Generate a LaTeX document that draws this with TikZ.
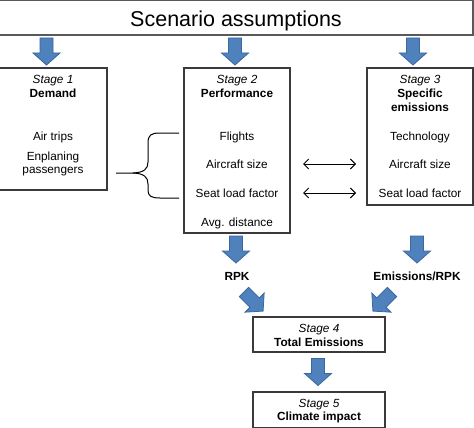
\documentclass[tikz,border=0pt]{standalone}
\usepackage{fontspec}
\setmainfont{Liberation Sans}
\usetikzlibrary{arrows.meta}
\definecolor{arrfill}{HTML}{4F81BD}
\definecolor{arrdraw}{HTML}{3A68A0}
\definecolor{boxline}{HTML}{3A3A3A}
\begin{document}
\begin{tikzpicture}[x=1pt,y=-1pt,
  box/.style={draw=boxline,line width=1.1pt,fill=white,inner sep=0pt},
  txt/.style={inner sep=0pt,text height=8.5pt,text depth=0pt,font=\fontsize{11.8}{14}\selectfont},
  ital/.style={txt,font=\fontsize{11.8}{14}\selectfont\itshape},
  bld/.style={txt,font=\fontsize{11.8}{14}\selectfont\bfseries},
  arrowstyle/.style={fill=arrfill,draw=arrdraw,line width=0.8pt,line join=miter},
  barrow/.pic={\draw[arrowstyle] (-6.5,0) -- (6.5,0) -- (6.5,15) -- (13.5,15) -- (0,27) -- (-13.5,15) -- (-6.5,15) -- cycle;},
  link/.style={line width=0.9pt,draw=black,{Straight Barb[length=5pt,width=10pt]}-{Straight Barb[length=5pt,width=10pt]}},
  bracestyle/.style={line width=1pt,draw=black}]
\clip (0,0) rectangle (474,428);
\fill[white] (0,0) rectangle (474,428);

% top box
\node[box,line width=1.5pt,draw=gray!70!black,minimum width=475pt,minimum height=35pt] (top) at (235.5,17.75) {};
\node[txt,text height=15pt,font=\fontsize{21.5}{24}\selectfont] (title) at (236,19) {Scenario assumptions};

% stage boxes
\node[box,minimum width=108pt,minimum height=122pt] (s1) at (53,129) {};
\node[box,minimum width=106pt,minimum height=165pt] (s2) at (237,150.5) {};
\node[box,minimum width=106pt,minimum height=137pt] (s3) at (420,136.5) {};
\node[box,minimum width=132pt,minimum height=35pt] (s4) at (319,334.5) {};
\node[box,minimum width=132pt,minimum height=36pt] (s5) at (319,410) {};

% arrows from scenario
\pic at (46.5,38) {barrow};
\pic at (235,38) {barrow};
\pic at (413,38) {barrow};

% stage 1 text
\node[ital] (s1a) at (53,79) {Stage 1};
\node[bld] (s1b) at (53,93) {Demand};
\node[txt] (s1c) at (53,136) {Air trips};
\node[txt] (s1d) at (53,156) {Enplaning};
\node[txt] (s1e) at (53,169) {passengers};

% stage 2 text
\node[ital] (s2a) at (237,79) {Stage 2};
\node[bld] (s2b) at (237,93) {Performance};
\node[txt] (s2c) at (237,136) {Flights};
\node[txt] (s2d) at (237,164) {Aircraft size};
\node[txt] (s2e) at (237,193) {Seat load factor};
\node[txt] (s2f) at (237,222) {Avg. distance};

% stage 3 text
\node[ital] (s3a) at (420,79) {Stage 3};
\node[bld] (s3b) at (420,93) {Specific};
\node[bld] (s3c) at (420,107) {emissions};
\node[txt] (s3d) at (420,136) {Technology};
\node[txt] (s3e) at (420,164) {Aircraft size};
\node[txt] (s3f) at (420,193) {Seat load factor};

% brace
\draw[bracestyle] (116,173) -- (133,173) .. controls (144,172.5) and (148,169) .. (148,162) -- (148,143) .. controls (148,135) and (151,133) .. (160,133) -- (179,133);
\draw[bracestyle] (133,173) .. controls (144,173.5) and (148,177) .. (148,184) -- (148,190) .. controls (148,196) and (151,198) .. (160,198) -- (179,198);

% double arrows
\coordinate (l1a) at (303,164); \coordinate (l1b) at (356,164);
\coordinate (l2a) at (303,193); \coordinate (l2b) at (356,193);
\draw[link] (l1a) -- (l1b);
\draw[link] (l2a) -- (l2b);

% arrows below
\pic at (236,236) {barrow};
\pic at (417,236) {barrow};
\node[bld] (rpk) at (237,276) {RPK};
\node[bld] (epr) at (417,276) {Emissions/RPK};
\pic[rotate=45] at (244,292) {barrow};
\pic[rotate=-45] at (392,292) {barrow};

\node[ital] (s4a) at (319,328) {Stage 4};
\node[bld] (s4b) at (319,342) {Total Emissions};

\pic at (318,358.5) {barrow};

\node[ital] (s5a) at (319,403) {Stage 5};
\node[bld] (s5b) at (319,416) {Climate impact};
\end{tikzpicture}
\end{document}
